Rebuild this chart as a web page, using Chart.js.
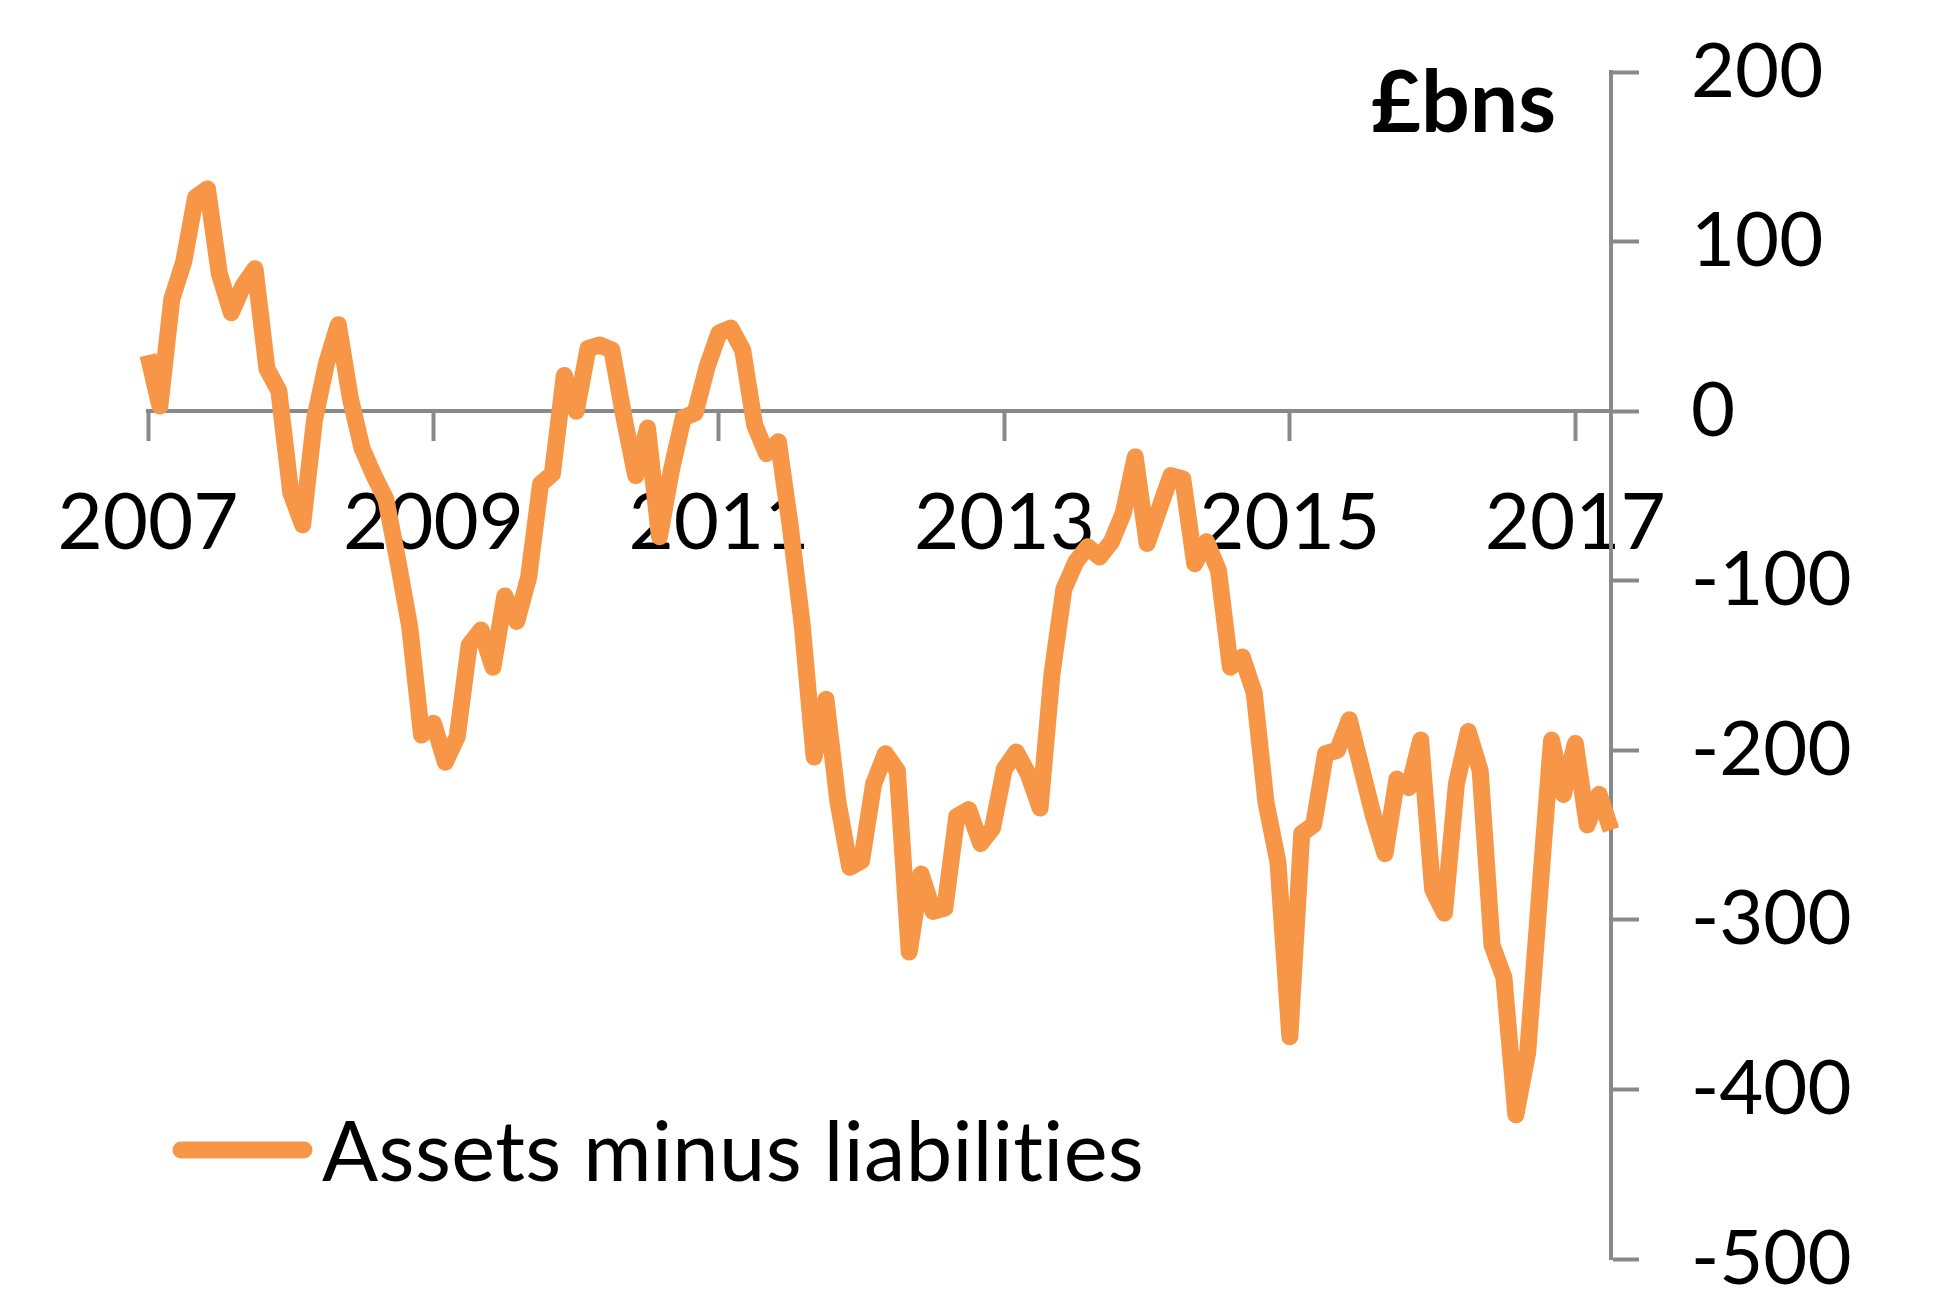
<!DOCTYPE html>
<html>
<head>
<meta charset="utf-8">
<script src="https://cdn.jsdelivr.net/npm/chart.js@4/dist/chart.umd.min.js"></script>
<style>
  html, body { margin: 0; padding: 0; background: #fff; }
  #wrap { width: 1934px; height: 1314px; }
</style>
</head>
<body>
<div id="wrap"><canvas id="NetPositionCanvas" width="1934" height="1314"></canvas></div>
<script>
// monthly, Jan 2007 - Apr 2017
const startYear = 2007;
const monthCount = 124;
const yearTicks = ['2007', '2009', '2011', '2013', '2015', '2017'];
const unitLabel = '£bns';
const seriesLabel = 'Assets minus liabilities';

const assetsMinusLiabilities = [
    33, 3, 66, 88, 126, 131, 81, 58, 74, 84, 25, 12,
    -48, -67, -5, 28, 51, 8, -22, -38, -52, -88, -127, -191,
    -184, -207, -192, -138, -129, -151, -109, -124, -98, -43, -37, 21,
    0, 37, 39, 36, -3, -38, -10, -74, -35, -4, -1, 26,
    46, 49, 36, -8, -25, -18, -68, -126, -204, -170, -230, -269,
    -265, -220, -202, -212, -319, -273, -295, -293, -239, -235, -255, -246,
    -211, -201, -214, -234, -155, -105, -89, -80, -86, -77, -60, -27,
    -78, -58, -38, -40, -90, -77, -94, -151, -145, -166, -231, -266,
    -369, -249, -244, -202, -200, -182, -210, -238, -261, -217, -222, -194,
    -282, -296, -220, -189, -212, -315, -334, -415, -378, -285, -194, -226,
    -196, -244, -226, -247
];

const months = [];
for (let i = 0; i < monthCount; i++) {
    const y = startYear + Math.floor(i / 12);
    months.push(y + '-' + String(i % 12 + 1).padStart(2, '0'));
}

const ORANGE = '#f79646';
const GREY = '#898989';
const FONT = 'Lato';

// "£bns" unit and the legend, drawn on the canvas
const extras = {
    id: 'extras',
    afterDraw(chart) {
        const ctx = chart.ctx;
        ctx.save();
        ctx.fillStyle = '#000';
        ctx.textBaseline = 'alphabetic';
        ctx.font = 'bold 86px ' + FONT;
        ctx.textAlign = 'right';
        ctx.fillText(unitLabel, 1556, 132);

        const ds = chart.data.datasets[0];
        ctx.strokeStyle = ds.borderColor;
        ctx.lineWidth = 17;
        ctx.lineCap = 'round';
        ctx.beginPath();
        ctx.moveTo(181, 1150);
        ctx.lineTo(304, 1150);
        ctx.stroke();
        ctx.font = '83px ' + FONT;
        ctx.letterSpacing = '0.4px';
        ctx.textAlign = 'left';
        ctx.fillText(ds.label, 322, 1181);
        ctx.restore();
    }
};

new Chart(document.getElementById('NetPositionCanvas'), {
    type: 'line',
    data: {
        labels: months,
        datasets: [{
            label: seriesLabel,
            data: assetsMinusLiabilities,
            borderColor: ORANGE,
            borderWidth: 17,
            borderJoinStyle: 'round',
            borderCapStyle: 'butt',
            pointRadius: 0,
            fill: false,
            tension: 0
        }]
    },
    options: {
        responsive: false,
        animation: false,
        layout: { padding: { left: 148, top: 72, bottom: 55, right: 0 } },
        plugins: {
            legend: { display: false },
            tooltip: { enabled: false }
        },
        scales: {
            x: {
                type: 'category',
                position: { y: 0 },
                offset: false,
                afterBuildTicks(scale) {
                    scale.ticks = scale.ticks.filter(t => yearTicks.includes(months[t.value].slice(0, 4)) && months[t.value].endsWith('-01'));
                },
                afterFit(scale) {
                    scale.paddingLeft = 0; scale.paddingRight = 0;
                    scale.paddingTop = 0; scale.paddingBottom = 0;
                },
                grid: { drawOnChartArea: false, drawTicks: true, tickLength: 28, tickWidth: 4, tickColor: GREY },
                border: { display: true, color: GREY, width: 4 },
                ticks: {
                    autoSkip: false,
                    maxRotation: 0,
                    padding: 38,
                    color: '#000',
                    font: { family: FONT, size: 78 },
                    callback(value) { return months[value].slice(0, 4); }
                }
            },
            y: {
                position: 'right',
                min: -500,
                max: 200,
                afterFit(scale) {
                    scale.width = 323;
                    scale.paddingTop = 0; scale.paddingBottom = 0;
                },
                grid: { drawOnChartArea: false, drawTicks: true, tickLength: 28, tickWidth: 4, tickColor: GREY },
                border: { display: true, color: GREY, width: 4 },
                ticks: {
                    stepSize: 100,
                    padding: 52,
                    color: '#000',
                    font: { family: FONT, size: 76 }
                }
            }
        }
    },
    plugins: [extras]
});
</script>
</body>
</html>
